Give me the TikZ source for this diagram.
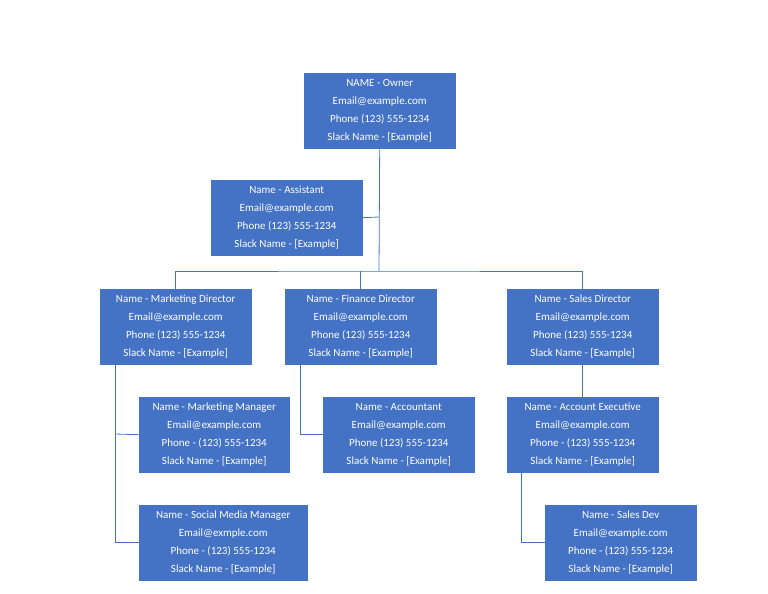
\documentclass[tikz,border=0pt]{standalone}
\usepackage{fontspec}
\setmainfont{Carlito}
\begin{document}
\begin{tikzpicture}[x=1pt,y=-1pt,
  box/.style={fill=boxblue,draw=boxblue,text=white,align=center,anchor=north west,inner sep=0pt,
    font=\fontsize{11}{18}\selectfont},
  link/.style={draw=boxblue,line width=0.8pt}]
\definecolor{boxblue}{HTML}{4472C4}
\useasboundingbox (0,0) rectangle (768,594);
\newcommand{\bx}[6]{\node[box,minimum width=#4pt,minimum height=75pt] (#1) at (#2,#3) {#5\\#6};}
\bx{own}{304}{73}{151}{NAME - Owner\\Email@example.com}{Phone (123) 555-1234\\Slack Name - [Example]}
\bx{asst}{211}{180}{151}{Name - Assistant\\Email@example.com}{Phone (123) 555-1234\\Slack Name - [Example]}
\bx{md}{100}{289}{151}{Name - Marketing Director\\Email@example.com}{Phone (123) 555-1234\\Slack Name - [Example]}
\bx{fd}{285}{289}{151}{Name - Finance Director\\Email@example.com}{Phone (123) 555-1234\\Slack Name - [Example]}
\bx{sd}{507}{289}{151}{Name - Sales Director\\Email@example.com}{Phone (123) 555-1234\\Slack Name - [Example]}
\bx{mm}{139}{397}{150}{Name - Marketing Manager\\Email@example.com}{Phone - (123) 555-1234\\Slack Name - [Example]}
\bx{acc}{323}{397}{151}{Name - Accountant\\Email@example.com}{Phone (123) 555-1234\\Slack Name - [Example]}
\bx{ae}{507}{397}{151}{Name - Account Executive\\Email@example.com}{Phone - (123) 555-1234\\Slack Name - [Example]}
\bx{smm}{139}{505}{168}{Name - Social Media Manager\\Email@exmple.com}{Phone - (123) 555-1234\\Slack Name - [Example]}
\bx{dev}{545}{505}{151}{Name - Sales Dev\\Email@example.com}{Phone - (123) 555-1234\\Slack Name - [Example]}
\coordinate (j) at (379,271);
\draw[link] (own.south) -- (j);
\draw[link] (asst.east) -- (379,217);
\draw[link] (md.north) |- (j) -| (sd.north);
\draw[link] (fd.north) -- (fd.north |- j);
\draw[link] (sd.south) -- (ae.north);
\draw[link] (115,363) |- (smm.west);
\draw[link] (115,434) -- (mm.west);
\draw[link] (300,363) |- (acc.west);
\draw[link] (521,472) |- (dev.west);
\end{tikzpicture}
\end{document}
